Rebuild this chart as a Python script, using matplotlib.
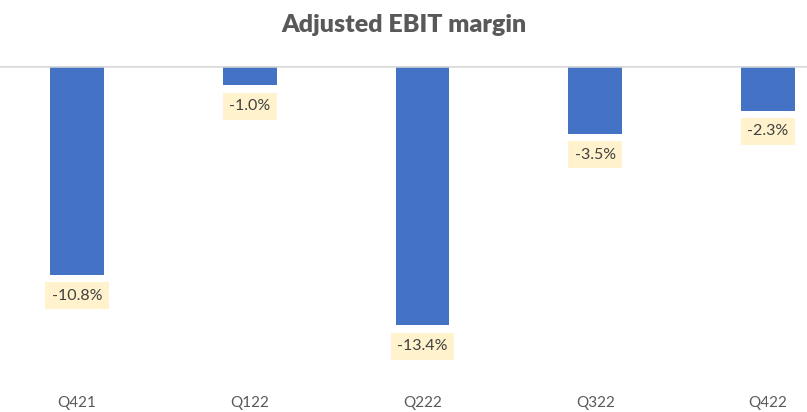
import matplotlib.pyplot as plt

# Data
quarters = ['Q421', 'Q122', 'Q222', 'Q322', 'Q422']
margin = [-10.8, -1.0, -13.4, -3.5, -2.3]

plt.rcParams['font.family'] = ['Lato', 'DejaVu Sans']

fig = plt.figure(figsize=(8.07, 4.12), dpi=100)
# axes spans full width, zero line at y=66px, bottom at 380px
ax = fig.add_axes([0, 32 / 412, 1, (380 - 66) / 412])

x = list(range(len(quarters)))
ax.bar(x, margin, width=0.31, color='#4472c4', zorder=2)

# px scale: centers 77 .. 768
step = (768 - 77) / 4
ax.set_xlim(-77 / step, 4 + (807 - 768) / step)
ax.set_ylim(-(380 - 66) / 19.35, 0)

ax.axhline(0, color='#d9d9d9', lw=1.8, zorder=3)

for xi, v in zip(x, margin):
    ax.annotate(f'{v:.1f}%', (xi, v), xytext=(0, -15), textcoords='offset points',
                ha='center', va='center', fontsize=11.5, color='#404040',
                bbox=dict(boxstyle='square,pad=0.4', fc='#fff2cc', ec='none'))

for s in ax.spines.values():
    s.set_visible(False)
ax.set_yticks([])
ax.set_xticks([])
for xi, q in zip(x, quarters):
    fig.text((77 + xi * step) / 807, 1 - 403 / 412, q, ha='center', va='center',
             fontsize=11, color='#595959')

fig.text(0.5, 1 - 25 / 412, 'Adjusted EBIT margin', ha='center', va='center',
         fontsize=18, fontweight='heavy', color='#595959')

fig.savefig('out.png', dpi=100)
